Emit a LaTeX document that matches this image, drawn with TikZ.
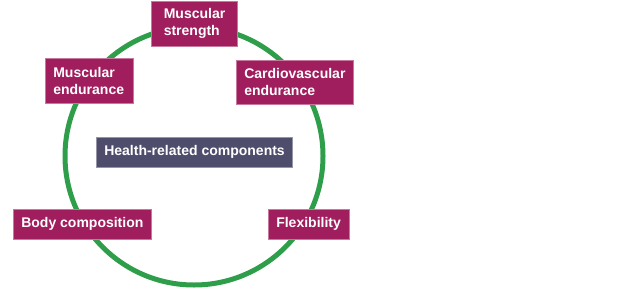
\documentclass[tikz,border=0pt]{standalone}
\usepackage{fontspec}
\setmainfont{Liberation Sans}
\usetikzlibrary{positioning}
\definecolor{compcol}{HTML}{A01E5E}
\definecolor{headcol}{HTML}{4E4E6C}
\definecolor{ringcol}{HTML}{2E9E4A}
\begin{document}
\begin{tikzpicture}[
    x=1pt, y=-1pt,
    comp/.style={fill=compcol, draw=compcol!60!white, line width=0.6pt, text=white, font=\fontsize{14}{17}\selectfont\bfseries, align=left, inner xsep=8pt, inner ysep=0pt, minimum height=30pt, anchor=north west},
    head/.style={comp, fill=headcol, draw=headcol!60!white},
  ]
  \useasboundingbox (0,0) rectangle (624,287);
  % ring behind the boxes
  \draw[ringcol, line width=5pt] (194,156) circle[radius=129];

  \node[comp, inner xsep=13pt, text width=60pt, minimum height=45pt] (strength) at (150.5,1) {Muscular\\strength};
  \node[comp, text width=72pt, minimum height=45pt] (mendur) at (45,58) {Muscular\\endurance};
  \node[comp, text width=101pt, minimum height=44pt] (cardio) at (236,60) {Cardiovascular\\endurance};
  \node[head] (health) at (96,137) {Health-related components};
  \node[comp] (body) at (13,209) {Body composition};
  \node[comp] (flex) at (268,209) {Flexibility};
\end{tikzpicture}
\end{document}
